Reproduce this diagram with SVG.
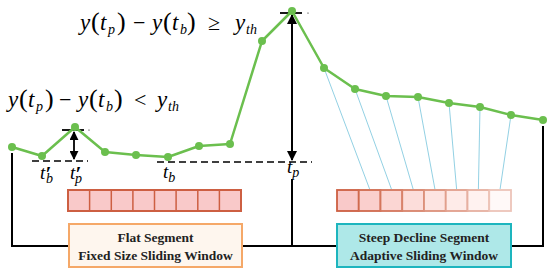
<svg xmlns="http://www.w3.org/2000/svg" width="550" height="272" viewBox="0 0 550 272">
<style>
.f{font-family:"Liberation Serif","Times New Roman","DejaVu Serif",serif;font-style:italic;font-size:23px;fill:#000}
.p{font-style:normal;font-size:26px}
.o{font-style:normal;font-size:22px}
.s{font-size:14px}
.lbl{font-family:"Liberation Serif","Times New Roman","DejaVu Serif",serif;font-style:italic;font-size:19px;fill:#000}
.pr{font-size:21px;font-weight:bold}
.box{font-family:"Liberation Serif","Times New Roman","DejaVu Serif",serif;font-weight:bold;font-size:13.5px;fill:#222;text-anchor:middle}
.blk{stroke:#000;stroke-width:2;fill:none}
.dash{stroke:#000;stroke-width:1.5;stroke-dasharray:7 4;fill:none}
.green{stroke:#6BBF4E;stroke-width:2.5;fill:none;stroke-linejoin:round}
.pt{fill:#6BBF4E}
.blue{stroke:#86CBE0;stroke-width:0.9}
</style>
<defs>
<marker id="ah" viewBox="0 0 10 10" refX="9" refY="5" markerWidth="5" markerHeight="5" orient="auto-start-reverse">
<path d="M0,0 L10,5 L0,10 z" fill="#000"/>
</marker>
</defs>

<g id="bracket">
<polyline class="blk" points="12,153 12,246 69,246"/>
<line class="blk" x1="242" y1="246" x2="337" y2="246"/>
<polyline class="blk" points="511,246 543,246 543,126"/>
<line class="blk" x1="292" y1="179" x2="292" y2="246"/>
</g>

<g id="connectors">
<line class="dash" x1="32" y1="161" x2="88" y2="161"/>
<line class="dash" x1="157" y1="162" x2="312" y2="162"/>
<line stroke="#000" stroke-width="1.8" x1="62" y1="130" x2="84" y2="130"/>
<circle cx="89" cy="130" r="0.6" fill="#000"/>
<line stroke="#000" stroke-width="1.8" x1="280" y1="13" x2="302" y2="13"/>
<circle cx="308" cy="13" r="0.6" fill="#000"/>
<line stroke="#000" stroke-width="1.8" x1="74" y1="132" x2="74" y2="159" marker-start="url(#ah)" marker-end="url(#ah)"/>
<line stroke="#000" stroke-width="2" x1="292" y1="15" x2="292" y2="160" marker-start="url(#ah)" marker-end="url(#ah)"/>
<g class="blue">
<line x1="324" y1="68" x2="369.6" y2="189"/>
<line x1="355" y1="89" x2="391.4" y2="189"/>
<line x1="386" y1="96" x2="413.1" y2="189"/>
<line x1="418" y1="97" x2="434.9" y2="189"/>
<line x1="449" y1="103" x2="456.6" y2="189"/>
<line x1="480" y1="107" x2="478.4" y2="189"/>
<line x1="511" y1="115" x2="500.1" y2="189"/>
</g>
</g>

<g id="series">
<polyline class="green" points="12,147 42,156 75,127 105,152 136,155 168,157 199,146 230,144 262,41 292,11 324,68 355,89 386,96 418,97 449,103 480,107 511,115 543,120"/>
<g class="pt">
<circle cx="12" cy="147" r="4"/><circle cx="42" cy="156" r="4"/><circle cx="75" cy="127" r="4"/>
<circle cx="105" cy="152" r="4"/><circle cx="136" cy="155" r="4"/><circle cx="168" cy="157" r="4"/>
<circle cx="199" cy="146" r="4"/><circle cx="230" cy="144" r="4"/><circle cx="262" cy="41" r="4"/>
<circle cx="292" cy="11" r="4"/><circle cx="324" cy="68" r="4"/><circle cx="355" cy="89" r="4"/>
<circle cx="386" cy="96" r="4"/><circle cx="418" cy="97" r="4"/><circle cx="449" cy="103" r="4"/>
<circle cx="480" cy="107" r="4"/><circle cx="511" cy="115" r="4"/><circle cx="543" cy="120" r="4"/>
</g>
</g>

<g id="formula-top">
<text class="f" y="30"><tspan x="80">y</tspan><tspan class="p" x="91">(</tspan><tspan x="100">t</tspan><tspan class="s" x="108" y="34">p</tspan><tspan class="p" x="117" y="30">)</tspan><tspan class="o" x="133">−</tspan><tspan x="152">y</tspan><tspan class="p" x="163">(</tspan><tspan x="172">t</tspan><tspan class="s" x="180" y="34">b</tspan><tspan class="p" x="187" y="30">)</tspan><tspan class="o" x="208">≥</tspan><tspan x="235">y</tspan><tspan class="s" x="246" y="34">th</tspan></text>
</g>
<g id="formula-left">
<text class="f" y="107"><tspan x="8">y</tspan><tspan class="p" x="19">(</tspan><tspan x="28">t</tspan><tspan class="s" x="36" y="111">p</tspan><tspan class="p" x="45" y="107">)</tspan><tspan class="o" x="59">−</tspan><tspan x="78">y</tspan><tspan class="p" x="89">(</tspan><tspan x="98">t</tspan><tspan class="s" x="106" y="111">b</tspan><tspan class="p" x="114" y="107">)</tspan><tspan class="o" x="134">&lt;</tspan><tspan x="157">y</tspan><tspan class="s" x="168" y="111">th</tspan></text>
</g>

<g id="labels">
<text class="lbl" x="40" y="179">t<tspan class="pr" y="181">′</tspan><tspan class="s" x="46" y="183">b</tspan></text>
<text class="lbl" x="70" y="179">t<tspan class="pr" y="181">′</tspan><tspan class="s" x="75" y="183">p</tspan></text>
<text class="lbl" x="163" y="178">t<tspan class="s" dy="4">b</tspan></text>
<text class="lbl" x="287" y="173">t<tspan class="s" dy="4">p</tspan></text>
</g>

<g id="flat-window">
<rect x="68" y="190" width="173" height="21" fill="#F9C9C9" stroke="#CD5F42" stroke-width="2"/>
<g stroke="#CD5F42" stroke-width="1.5">
<line x1="89.6" y1="190" x2="89.6" y2="211"/><line x1="111.3" y1="190" x2="111.3" y2="211"/>
<line x1="132.9" y1="190" x2="132.9" y2="211"/><line x1="154.5" y1="190" x2="154.5" y2="211"/>
<line x1="176.1" y1="190" x2="176.1" y2="211"/><line x1="197.8" y1="190" x2="197.8" y2="211"/>
<line x1="219.4" y1="190" x2="219.4" y2="211"/>
</g>
</g>

<g id="adaptive-window">
<rect x="337" y="190" width="21.75" height="21" fill="#F9C9C9" stroke="#CD5F42" stroke-width="1.8"/>
<rect x="358.75" y="190" width="21.75" height="21" fill="#FACFCD" stroke="#D06A4E" stroke-width="1.8"/>
<rect x="380.5" y="190" width="21.75" height="21" fill="#FBD6D3" stroke="#D4765C" stroke-width="1.8"/>
<rect x="402.25" y="190" width="21.75" height="21" fill="#FCDDDA" stroke="#D8836B" stroke-width="1.8"/>
<rect x="424" y="190" width="21.75" height="21" fill="#FDE4E1" stroke="#DC917B" stroke-width="1.8"/>
<rect x="445.75" y="190" width="21.75" height="21" fill="#FEEBE8" stroke="#E19F8C" stroke-width="1.8"/>
<rect x="467.5" y="190" width="21.75" height="21" fill="#FFF2F0" stroke="#E6B0A0" stroke-width="1.8"/>
<rect x="489.25" y="190" width="21.75" height="21" fill="#FFF9F8" stroke="#EDC4B8" stroke-width="1.8"/>
</g>

<g id="flat-segment">
<rect x="69" y="224" width="173" height="43" fill="#FEF6EE" stroke="#F5A868" stroke-width="2"/>
<text class="box" x="155.5" y="242">Flat Segment</text>
<text class="box" x="155.5" y="260">Fixed Size Sliding Window</text>
</g>

<g id="steep-segment">
<rect x="337" y="224" width="174" height="43" fill="#AEE8E8" stroke="#1DB5BE" stroke-width="2"/>
<text class="box" x="424" y="242">Steep Decline Segment</text>
<text class="box" x="424" y="260">Adaptive Sliding Window</text>
</g>
</svg>
